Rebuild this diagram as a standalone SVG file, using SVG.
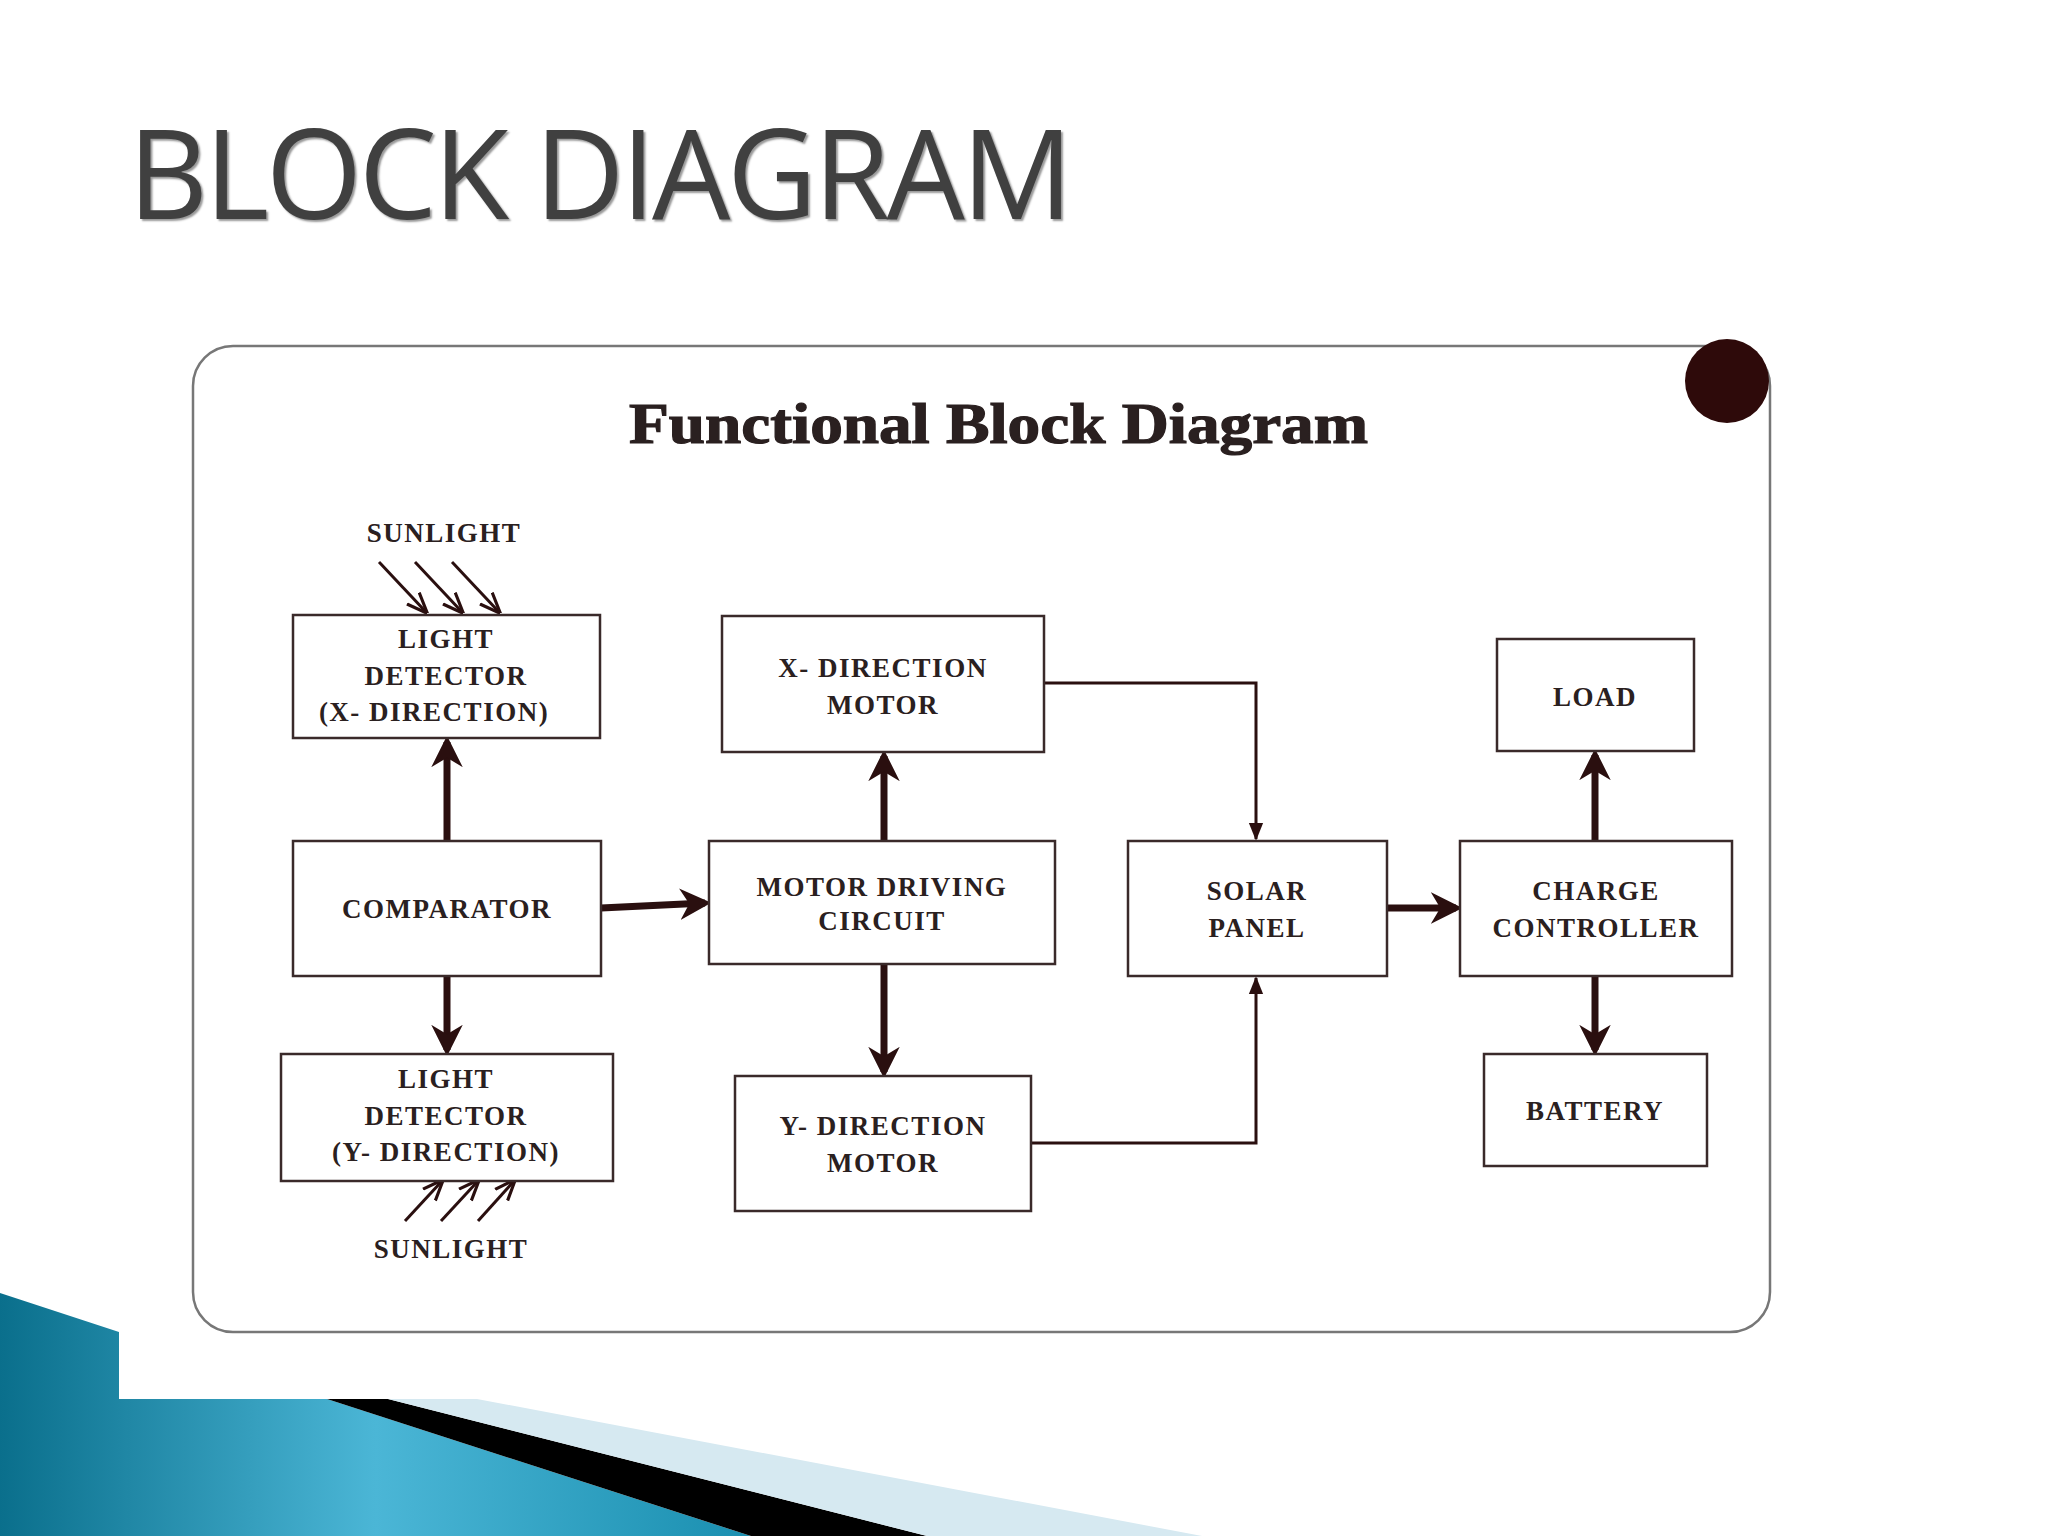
<svg xmlns="http://www.w3.org/2000/svg" width="2048" height="1536" viewBox="0 0 2048 1536">
<defs>
<style>
.box{fill:#fff;stroke:#3a2a2a;stroke-width:2.5}
.t{font-family:"Liberation Serif",serif;font-weight:bold;font-size:27px;letter-spacing:1.5px;fill:#2a2020;text-anchor:middle}
.thick{stroke:#2a0f0f;stroke-width:7;fill:none}
.thin{stroke:#2a0f0f;stroke-width:3;fill:none}
</style>
<marker id="ah" viewBox="0 0 10 10" refX="8" refY="5" markerWidth="4.5" markerHeight="5" orient="auto" markerUnits="strokeWidth"><path d="M0,0 L10,5 L0,10 L3,5 Z" fill="#2a0f0f"/></marker>
<marker id="as" viewBox="0 0 10 10" refX="9" refY="5" markerWidth="6" markerHeight="6" orient="auto" markerUnits="strokeWidth"><path d="M0,1 L10,5 L0,9 Z" fill="#2a0f0f"/></marker>
<marker id="al" viewBox="0 0 10 10" refX="9" refY="5" markerWidth="7" markerHeight="7" orient="auto" markerUnits="strokeWidth"><path d="M0,1 L10,5 L0,9" fill="none" stroke="#2a0f0f" stroke-width="1.5"/></marker>
<linearGradient id="bg" x1="0" y1="0" x2="1" y2="0"><stop offset="0" stop-color="#0a6f8c"/><stop offset="0.5" stop-color="#4bb6d6"/><stop offset="1" stop-color="#1a8fb0"/></linearGradient>
</defs>
<rect width="2048" height="1536" fill="#fff"/>
<g id="deco">
<polygon points="0,1293 119,1332 119,1399 327,1399 751,1536 0,1536" fill="url(#bg)"/>
<polygon points="327,1399 388,1399 927,1536 751,1536" fill="#000"/>
<polygon points="388,1399 477,1399 1202,1536 927,1536" fill="#d6e9f1"/>
</g>
<text x="128" y="219" font-family="Open Sans,sans-serif" font-size="124" fill="#404040" textLength="945" style="text-shadow:2px 2px 2px #999">BLOCK DIAGRAM</text>
<rect x="193" y="346" width="1577" height="986" rx="40" fill="#fff" stroke="#777" stroke-width="2.5"/>
<circle cx="1727" cy="381" r="42" fill="#2e0a0a"/>
<text x="629" y="443" font-family="Liberation Serif,serif" font-weight="bold" font-size="56" fill="#2a2020" textLength="739" lengthAdjust="spacingAndGlyphs" stroke="#2a2020" stroke-width="1.2">Functional Block Diagram</text>
<g id="connectors">
<line class="thick" x1="447" y1="841" x2="447" y2="742" marker-end="url(#ah)"/>
<line class="thick" x1="447" y1="976" x2="447" y2="1050" marker-end="url(#ah)"/>
<line class="thick" x1="601" y1="908" x2="705" y2="903" marker-end="url(#ah)"/>
<line class="thick" x1="884" y1="841" x2="884" y2="756" marker-end="url(#ah)"/>
<line class="thick" x1="884" y1="964" x2="884" y2="1072" marker-end="url(#ah)"/>
<line class="thick" x1="1387" y1="908" x2="1456" y2="908" marker-end="url(#ah)"/>
<line class="thick" x1="1595" y1="841" x2="1595" y2="755" marker-end="url(#ah)"/>
<line class="thick" x1="1595" y1="976" x2="1595" y2="1050" marker-end="url(#ah)"/>
<polyline class="thin" points="1044,683 1256,683 1256,839" marker-end="url(#as)"/>
<polyline class="thin" points="1031,1143 1256,1143 1256,978" marker-end="url(#as)"/>
<line class="thin" x1="379" y1="562" x2="426" y2="612" marker-end="url(#al)"/>
<line class="thin" x1="415" y1="562" x2="462" y2="612" marker-end="url(#al)"/>
<line class="thin" x1="452" y1="562" x2="499" y2="612" marker-end="url(#al)"/>
<line class="thin" x1="405" y1="1221" x2="442" y2="1181" marker-end="url(#al)"/>
<line class="thin" x1="441" y1="1221" x2="478" y2="1181" marker-end="url(#al)"/>
<line class="thin" x1="478" y1="1221" x2="514" y2="1181" marker-end="url(#al)"/>
</g>
<text class="t" x="444" y="542">SUNLIGHT</text>
<text class="t" x="451" y="1258">SUNLIGHT</text>
<g id="ldx"><rect class="box" x="293" y="615" width="307" height="123"/><text class="t" x="446" y="648">LIGHT</text><text class="t" x="446" y="685">DETECTOR</text><text class="t" x="434" y="721">(X- DIRECTION)</text></g>
<g id="comp"><rect class="box" x="293" y="841" width="308" height="135"/><text class="t" x="447" y="918">COMPARATOR</text></g>
<g id="ldy"><rect class="box" x="281" y="1054" width="332" height="127"/><text class="t" x="446" y="1088">LIGHT</text><text class="t" x="446" y="1125">DETECTOR</text><text class="t" x="446" y="1161">(Y- DIRECTION)</text></g>
<g id="xm"><rect class="box" x="722" y="616" width="322" height="136"/><text class="t" x="883" y="677">X- DIRECTION</text><text class="t" x="883" y="714">MOTOR</text></g>
<g id="md"><rect class="box" x="709" y="841" width="346" height="123"/><text class="t" x="882" y="896">MOTOR DRIVING</text><text class="t" x="882" y="930">CIRCUIT</text></g>
<g id="ym"><rect class="box" x="735" y="1076" width="296" height="135"/><text class="t" x="883" y="1135">Y- DIRECTION</text><text class="t" x="883" y="1172">MOTOR</text></g>
<g id="sp"><rect class="box" x="1128" y="841" width="259" height="135"/><text class="t" x="1257" y="900">SOLAR</text><text class="t" x="1257" y="937">PANEL</text></g>
<g id="load"><rect class="box" x="1497" y="639" width="197" height="112"/><text class="t" x="1595" y="706">LOAD</text></g>
<g id="cc"><rect class="box" x="1460" y="841" width="272" height="135"/><text class="t" x="1596" y="900">CHARGE</text><text class="t" x="1596" y="937">CONTROLLER</text></g>
<g id="bat"><rect class="box" x="1484" y="1054" width="223" height="112"/><text class="t" x="1595" y="1120">BATTERY</text></g>
</svg>
